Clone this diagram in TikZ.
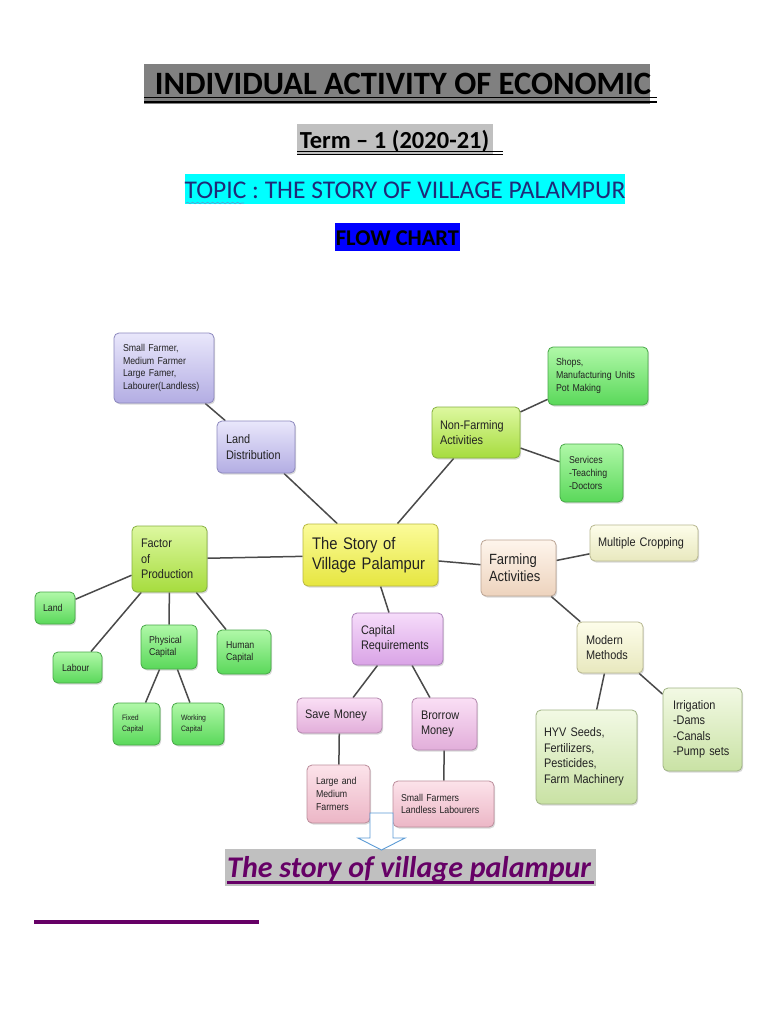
\documentclass[tikz,border=0pt]{standalone}
\usepackage{fontspec}
\setmainfont{Carlito}
\newfontfamily\arialf[FakeStretch=0.88]{Liberation Sans}
\usetikzlibrary{shadows,decorations.pathmorphing}
\pgfdeclarelayer{back}
\pgfdeclarelayer{bg}
\pgfsetlayers{back,bg,main}
\definecolor{hlgray}{HTML}{808080}
\definecolor{hlsilver}{HTML}{C0C0C0}
\definecolor{hlcyan}{RGB}{0,255,255}
\definecolor{hlblue}{RGB}{0,0,255}
\definecolor{topicblue}{HTML}{1F2A78}
\definecolor{purp}{HTML}{660066}
\definecolor{arrowblue}{HTML}{5B9BD5}
\definecolor{lnk}{HTML}{4A4A4A}
\definecolor{txt}{HTML}{222222}
\definecolor{lavT}{HTML}{E9E7FB}\definecolor{lavB}{HTML}{B3ADE3}\definecolor{lavD}{HTML}{8C88BE}
\definecolor{ygT}{HTML}{DDF8A0}\definecolor{ygB}{HTML}{A6DC3E}\definecolor{ygD}{HTML}{86B040}
\definecolor{grT}{HTML}{B0F8A8}\definecolor{grB}{HTML}{5AD85A}\definecolor{grD}{HTML}{48A848}
\definecolor{yeT}{HTML}{FBFB9A}\definecolor{yeB}{HTML}{E6E640}\definecolor{yeD}{HTML}{B8B840}
\definecolor{peT}{HTML}{FEF5EC}\definecolor{peB}{HTML}{EDD3BD}\definecolor{peD}{HTML}{BBA493}
\definecolor{crT}{HTML}{FDFDEA}\definecolor{crB}{HTML}{E8E8BE}\definecolor{crD}{HTML}{B8B890}
\definecolor{puT}{HTML}{F6DCFA}\definecolor{puB}{HTML}{D9A3E6}\definecolor{puD}{HTML}{AA80B8}
\definecolor{piT}{HTML}{FADFF5}\definecolor{piB}{HTML}{E2AEDA}\definecolor{piD}{HTML}{B488AE}
\definecolor{roT}{HTML}{FCE3EA}\definecolor{roB}{HTML}{ECB6C6}\definecolor{roD}{HTML}{BC8E9C}
\definecolor{pgT}{HTML}{F2F9E4}\definecolor{pgB}{HTML}{C9E2A4}\definecolor{pgD}{HTML}{A0B484}
\tikzset{
  bx/.code n args={3}{%
    \pgfmathsetmacro\bxw{#1-2*#3}%
    \edef\bxnext{\noexpand\tikzset{minimum width=#1pt,minimum height=#2pt,inner xsep=#3pt,text width=\bxw pt}}\bxnext},
  box/.style={rounded corners=5pt, line width=0.8pt, text=txt, align=left, inner ysep=0pt,
    drop shadow={shadow xshift=1.2pt, shadow yshift=-1.5pt, opacity=0.3}},
  lav/.style={box, draw=lavD, top color=lavT, bottom color=lavB},
  yg/.style={box, draw=ygD, top color=ygT, bottom color=ygB},
  gr/.style={box, draw=grD, top color=grT, bottom color=grB},
  ye/.style={box, draw=yeD, top color=yeT, bottom color=yeB},
  pe/.style={box, draw=peD, top color=peT, bottom color=peB},
  cr/.style={box, draw=crD, top color=crT, bottom color=crB},
  pu/.style={box, draw=puD, top color=puT, bottom color=puB},
  pi/.style={box, draw=piD, top color=piT, bottom color=piB},
  ro/.style={box, draw=roD, top color=roT, bottom color=roB},
  pg/.style={box, draw=pgD, top color=pgT, bottom color=pgB},
  fXL/.style={font=\arialf\fontsize{16.8}{20}\selectfont},
  fL/.style={font=\arialf\fontsize{14.8}{17}\selectfont},
  fM/.style={font=\arialf\fontsize{12.4}{15.5}\selectfont},
  fS/.style={font=\arialf\fontsize{10}{12.8}\selectfont},
  fXS/.style={font=\arialf\fontsize{7.8}{11}\selectfont},
  link/.style={draw=lnk, line width=1.5pt},
}
\begin{document}
\begin{tikzpicture}[x=1pt,y=-1pt]
\useasboundingbox (0,0) rectangle (768,1024);
\begin{pgfonlayer}{back}
\fill[white] (0,0) rectangle (768,1024);
\end{pgfonlayer}

% ---------- header ----------
\fill[hlgray] (144,64) rectangle (650,104);
\node[font=\fontsize{32.6}{36}\selectfont\bfseries, anchor=base] (title) at (403,94.3) {INDIVIDUAL ACTIVITY OF ECONOMIC};
\draw[line width=1pt] (144,97.8) -- (657,97.8);
\draw[line width=1.8pt] (144,101.8) -- (657,101.8);

\fill[hlsilver] (297,124) rectangle (493,155);
\node[font=\fontsize{24.5}{28}\selectfont\bfseries, anchor=base] (term) at (394.5,149) {Term – 1 (2020-21)};
\draw[line width=1pt] (297,151.6) -- (503,151.6);
\draw[line width=1.2pt] (297,154.4) -- (503,154.4);

\fill[hlcyan] (185,174) rectangle (625,204);
\node[font=\fontsize{25.5}{29}\selectfont, text=topicblue, anchor=base] (topic) at (405,199) {TOPIC : THE STORY OF VILLAGE PALAMPUR};
\draw[decorate, decoration={snake, amplitude=0.8pt, segment length=5pt}, draw=arrowblue, line width=0.6pt] (186,203) -- (244,203);

\fill[hlblue] (335,223) rectangle (460,251);
\node[font=\fontsize{22.5}{26}\selectfont\bfseries, anchor=base] (flow) at (397.5,245) {FLOW CHART};

% ---------- nodes ----------
\node[lav, bx={100}{70}{9}, fS] (sf) at (164,368) {Small Farmer,\\Medium Farmer\\Large Famer,\\Labourer(Landless)};
\node[lav, bx={78}{52}{9}, fM] (ld) at (256,447) {Land\\Distribution};
\node[yg, bx={88}{51}{8}, fM] (nf) at (476,432.5) {Non-Farming\\Activities};
\node[gr, bx={100}{58}{8}, fS] (shops) at (598,376) {Shops,\\Manufacturing Units\\Pot Making};
\node[gr, bx={63}{58}{9}, fS] (serv) at (591.5,473) {Services\\-Teaching\\-Doctors};
\node[yg, bx={75}{66}{9}, fM] (fp) at (169.5,559) {Factor\\of\\Production};
\node[ye, bx={135}{62}{9}, fXL] (story) at (370.5,555) {The Story of\\Village Palampur};
\node[pe, bx={75}{56}{8}, fL] (farm) at (518.5,568) {Farming\\Activities};
\node[cr, bx={108}{36}{8}, fM] (mc) at (644,543) {Multiple Cropping};
\node[gr, bx={40}{32}{8}, fS] (land) at (55,608) {Land};
\node[gr, bx={49}{31}{9}, fS] (lab) at (77.5,667.5) {Labour};
\node[gr, bx={56}{44}{8}, fS] (pc) at (169,647) {Physical\\Capital};
\node[gr, bx={54}{44}{9}, fS] (hc) at (244,652) {Human\\Capital};
\node[gr, bx={47}{42}{9}, fXS] (fc) at (136.5,724) {Fixed\\Capital};
\node[gr, bx={52}{42}{9}, fXS] (wc) at (198,724) {Working\\Capital};
\node[pu, bx={91}{52}{9}, fM] (cr) at (397.5,639) {Capital\\Requirements};
\node[cr, bx={66}{51}{9}, fM] (mm) at (610,647.5) {Modern\\Methods};
\node[pi, bx={85}{35}{8}, fM] (sm) at (339.5,715.5) {Save Money};
\node[pi, bx={65}{52}{9}, fM] (bm) at (444.5,724) {Brorrow\\Money};
\node[ro, bx={63}{58}{9}, fS] (lmf) at (338.5,794) {Large and\\Medium\\Farmers};
\node[ro, bx={101}{46}{8}, fS] (slf) at (443.5,804) {Small Farmers\\Landless Labourers};
\node[pg, bx={101}{94}{8}, fM] (hyv) at (586.5,757) {HYV Seeds,\\Fertilizers,\\Pesticides,\\Farm Machinery};
\node[pg, bx={79}{83}{10}, fM] (irr) at (702.5,729.5) {Irrigation\\-Dams\\-Canals\\-Pump sets};

% ---------- connectors ----------
\begin{pgfonlayer}{bg}
\draw[link] (sf) -- (ld);
\draw[link] (ld) -- (story);
\draw[link] (nf) -- (story);
\draw[link] (nf) -- (shops);
\draw[link] (nf) -- (serv);
\draw[link] (fp) -- (story);
\draw[link] (fp) -- (land);
\draw[link] (fp) -- (lab);
\draw[link] (fp) -- (pc);
\draw[link] (fp) -- (hc);
\draw[link] (pc) -- (fc);
\draw[link] (pc) -- (wc);
\draw[link] (story) -- (farm);
\draw[link] (story) -- (cr);
\draw[link] (farm) -- (mc);
\draw[link] (farm) -- (mm);
\draw[link] (cr) -- (sm);
\draw[link] (cr) -- (bm);
\draw[link] (sm) -- (lmf);
\draw[link] (bm) -- (slf);
\draw[link] (mm) -- (hyv);
\draw[link] (mm) -- (irr);
\end{pgfonlayer}

% ---------- bottom ----------
\fill[hlsilver] (225,849) rectangle (596,886);
\node[font=\fontsize{30}{34}\selectfont\bfseries\itshape, text=purp, anchor=base west, inner sep=0pt] (btitle) at (227,877) {The story of village palampur};
\draw[purp, line width=3pt] (227,882.5) -- (594,882.5);
\draw[arrowblue, fill=white, line width=0.9pt, line join=miter] (370,813) -- (370,838) -- (358,838) -- (381.5,850) -- (405,838) -- (393,838) -- (393,813) -- cycle;
\draw[purp, line width=4pt] (34,922) -- (259,922);
\end{tikzpicture}
\end{document}
